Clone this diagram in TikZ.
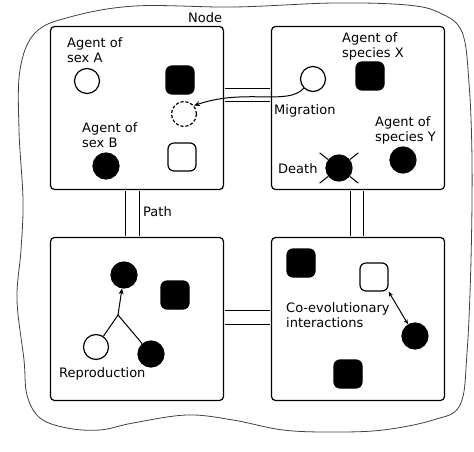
\documentclass[tikz,border=0pt]{standalone}
\usepackage{fontspec}
\setmainfont{DejaVu Sans}
\usetikzlibrary{arrows.meta}
\begin{document}
\begin{tikzpicture}[x=1pt,y=-1pt,
	txt/.style={font=\fontsize{13}{15}\selectfont, inner sep=0pt, align=left},
	patch/.style={draw, line width=1.2pt, rounded corners=4pt, minimum width=173pt, minimum height=163pt},
	road/.style={line width=1.2pt, double, double distance=12.5pt, shorten <=0.6pt, shorten >=0.6pt},
	agent/.style={circle, draw, line width=1.2pt, minimum size=25pt, inner sep=0pt},
	agentB/.style={agent, fill=black, minimum size=26pt},
	spec/.style={draw, line width=1.2pt, rounded corners=6pt, minimum size=28pt, inner sep=0pt},
	specB/.style={spec, fill=black},
	link/.style={line width=1pt}]
	\useasboundingbox (0,0) rectangle (474,452);

	% outer world
	\draw[line width=0.8pt, black!75] plot[smooth cycle, tension=0.6] coordinates {
		(20,70) (35,33) (70,17) (135,6) (234,7) (334,3) (407,5) (440,13) (462,32)
		(469,83) (472,160) (471,260) (467,353) (460,405) (433,420) (383,430) (333,432)
		(283,430) (233,420) (187,415) (133,423) (100,430) (67,428) (40,418) (27,395)
		(24,360) (17,300) (21,250) (23,200) (19,130)};

	% four nodes
	\node[patch] (tl) at (137,108) {};
	\node[patch] (tr) at (358,108) {};
	\node[patch] (bl) at (137,319) {};
	\node[patch] (br) at (358,319) {};
	\node[txt, anchor=base west] (nodeLbl) at (188,23) {Node};

	% paths between nodes
	\draw[road] ([yshift=13pt]tl.east) -- ([yshift=13pt]tr.west);
	\draw[road] ([yshift=1.5pt]bl.east) -- ([yshift=1.5pt]br.west);
	\draw[road] ([xshift=-4.5pt]tl.south) -- ([xshift=-4.5pt]bl.north);
	\draw[road] ([xshift=-1pt]tr.south) -- ([xshift=-1pt]br.north);
	\node[txt, anchor=base west] (pathLbl) at (143,216.5) {Path};

	% top left
	\node[agent] (sexA) at (87,81) {};
	\node[specB] (tlX) at (180,80) {};
	\node[agent, dash pattern=on 3pt off 2pt] (moved) at (184,114) {};
	\node[agentB] (sexB) at (106,166) {};
	\node[spec] (tlY) at (182,157) {};
	\node[txt, anchor=west] (lblA) at (67,50.5) {Agent of\\sex A};
	\node[txt, anchor=west] (lblB) at (82,135.5) {Agent of\\sex B};

	% top right
	\node[agent] (migrant) at (313,79) {};
	\node[specB] (spX) at (370,76) {};
	\node[agentB] (spY) at (403,160) {};
	\node[agentB] (dead) at (339,168) {};
	\foreach \a in {38,142,218,322} {
		\draw[link] (dead.\a) -- ++(\a:11pt);
	}
	\node[txt, anchor=west] (lblX) at (342,46.5) {Agent of\\species X};
	\node[txt, anchor=west] (lblY) at (375,130) {Agent of\\species Y};
	\node[txt, anchor=base west] (deathLbl) at (278,173) {Death};
	\draw[link, -{Stealth[length=6pt,width=5pt]}] (migrant.225) .. controls (288,106) and (245,88) .. (moved.40);
	\node[txt, anchor=base west] (migLbl) at (274,114.5) {Migration};

	% bottom left
	\node[agentB] (child) at (124,275) {};
	\node[specB] (blX) at (175,295) {};
	\node[agent] (mum) at (96,347) {};
	\node[agentB] (dad) at (151,354) {};
	\coordinate (mate) at (118,315);
	\draw[link] (mum) -- (mate) -- (dad);
	\draw[link, -{Stealth[length=6pt,width=5pt]}] (mate) -- (child);
	\node[txt, anchor=base west] (repLbl) at (59,377.5) {Reproduction};

	% bottom right
	\node[specB] (brX) at (301,263) {};
	\node[spec] (brY) at (374,277) {};
	\node[agentB] (brZ) at (415,336) {};
	\node[specB] (brW) at (348,374) {};
	\draw[link, {Stealth[length=5pt,width=4pt]}-{Stealth[length=5pt,width=4pt]}] (brY.south east) -- (brZ);
	\node[txt, anchor=west] (coLbl) at (286,315) {Co-evolutionary\\interactions};
\end{tikzpicture}
\end{document}
